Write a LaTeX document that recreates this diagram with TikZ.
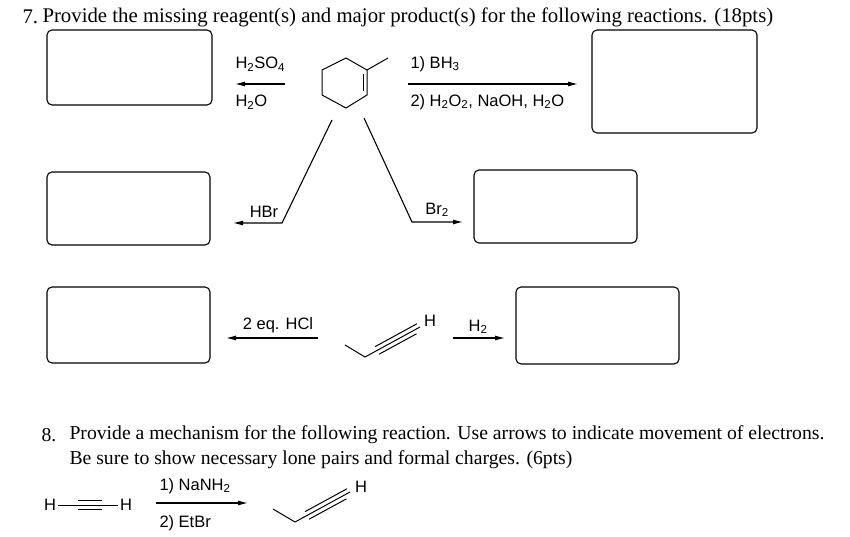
\documentclass[tikz,border=0pt]{standalone}
\usepackage{fontspec}
\setmainfont{Liberation Serif}
\newfontfamily\chem{Liberation Sans}
\usetikzlibrary{arrows.meta,calc}
\newcommand{\sub}[1]{\textsubscript{#1}}
\begin{document}
\begin{tikzpicture}[x=1pt,y=-1pt,line width=1pt,
  ansbox/.style={draw,rounded corners=5pt,line width=1.1pt},
  rxn/.style={-{Latex[length=10pt,width=5pt]},line width=1.1pt},
  lab/.style={font=\chem\fontsize{16.5}{18}\selectfont,inner sep=0pt},
  ttl/.style={font=\fontsize{20.8}{24}\selectfont,inner sep=0pt,anchor=west},
  ttlb/.style={font=\fontsize{19.7}{24}\selectfont,inner sep=0pt,anchor=west}]
\useasboundingbox (0,0) rectangle (850,537);
% titles
\node[ttl] (n7) at (22,17) {7.};
\node[ttl] (t7) at (42,17) {Provide the missing reagent(s) and major product(s) for the following reactions. (18pts)};
\node[ttlb] (n8) at (41,435) {8.};
\node[ttlb] (t8a) at (69,435) {Provide a mechanism for the following reaction. Use arrows to indicate movement of electrons.};
\node[ttlb] (t8b) at (69,460) {Be sure to show necessary lone pairs and formal charges. (6pts)};
% boxes
\draw[ansbox] (47,30) rectangle (212,105);
\draw[ansbox] (592,30) rectangle (757,133);
\draw[ansbox] (47,172) rectangle (210,245);
\draw[ansbox] (474,170) rectangle (637,243);
\draw[ansbox] (47,287) rectangle (210,363);
\draw[ansbox] (516,287) rectangle (679,364);
% cyclohexene
\coordinate (c1) at (346,58); \coordinate (c2) at (367,70); \coordinate (c3) at (367,95);
\coordinate (c4) at (346,108); \coordinate (c5) at (322,95); \coordinate (c6) at (322,70);
\coordinate (me) at (388,58);
\draw (c1)--(c2)--(c3)--(c4)--(c5)--(c6)--cycle;
\draw (c2)--(me);
\draw ($(c2)!0.15!(c3)+(-4,0)$)--($(c3)!0.15!(c2)+(-4,0)$);
% arrows top
\coordinate (a1s) at (285,84); \coordinate (a1e) at (235,84);
\draw[rxn] (a1s)--(a1e);
\node[lab,anchor=west] (h2so4) at (235,64) {H\sub{2}SO\sub{4}};
\node[lab,anchor=west] (h2o) at (235,102) {H\sub{2}O};
\coordinate (a2s) at (408,84); \coordinate (a2e) at (578,84);
\draw[rxn] (a2s)--(a2e);
\node[lab,anchor=west] (bh3) at (410,64) {1) BH\sub{3}};
\node[lab,anchor=west] (ox) at (410,102) {2) H\sub{2}O\sub{2}, NaOH, H\sub{2}O};
% HBr / Br2
\coordinate (l1) at (332,120); \coordinate (l2) at (282,223); \coordinate (l3) at (233,223);
\draw[rxn] (l1)--(l2)--(l3);
\node[lab] (hbr) at (264,212) {HBr};
\coordinate (r1) at (364,118); \coordinate (r2) at (412,222); \coordinate (r3) at (463,222);
\draw[rxn] (r1)--(r2)--(r3);
\node[lab] (br2) at (437,210) {Br\sub{2}};
% propyne
\coordinate (p1) at (345,345); \coordinate (p2) at (365,357); \coordinate (p3) at (420,327);
\draw (p1)--(p2)--(p3);
\draw ($(p2)!0.22!(p3)+(-2,-3.8)$)--($(p3)!0.02!(p2)+(-2,-3.8)$);
\draw ($(p2)!0.22!(p3)+(2,3.8)$)--($(p3)!0.1!(p2)+(2,3.8)$);
\node[lab] (ph) at (430,321) {H};
\coordinate (b1s) at (318,338); \coordinate (b1e) at (226,338);
\draw[rxn] (b1s)--(b1e);
\node[lab] (hcl) at (278,325) {2 eq. HCl};
\coordinate (b2s) at (453,338); \coordinate (b2e) at (505,338);
\draw[rxn] (b2s)--(b2e);
\node[lab] (h2) at (478,327) {H\sub{2}};
% section 8 reaction
\node[lab] (hl) at (50,505) {H};
\node[lab] (hr) at (126,505) {H};
\draw ($(hl.east)+(2,0)$) -- ($(hr.west)+(-2,0)$);
\draw (78,500.5)--(102,500.5); \draw (78,509.5)--(102,509.5);
\coordinate (c8s) at (156,503); \coordinate (c8e) at (248,503);
\draw[rxn] (c8s)--(c8e);
\node[lab,anchor=west] (nanh2) at (159,486) {1) NaNH\sub{2}};
\node[lab,anchor=west] (etbr) at (159,523) {2) EtBr};
\coordinate (q1) at (273,509); \coordinate (q2) at (295,522); \coordinate (q3) at (350,492);
\draw (q1)--(q2)--(q3);
\draw ($(q2)!0.22!(q3)+(-2,-3.8)$)--($(q3)!0.02!(q2)+(-2,-3.8)$);
\draw ($(q2)!0.22!(q3)+(2,3.8)$)--($(q3)!0.1!(q2)+(2,3.8)$);
\node[lab] (qh) at (361,487) {H};
\end{tikzpicture}
\end{document}
